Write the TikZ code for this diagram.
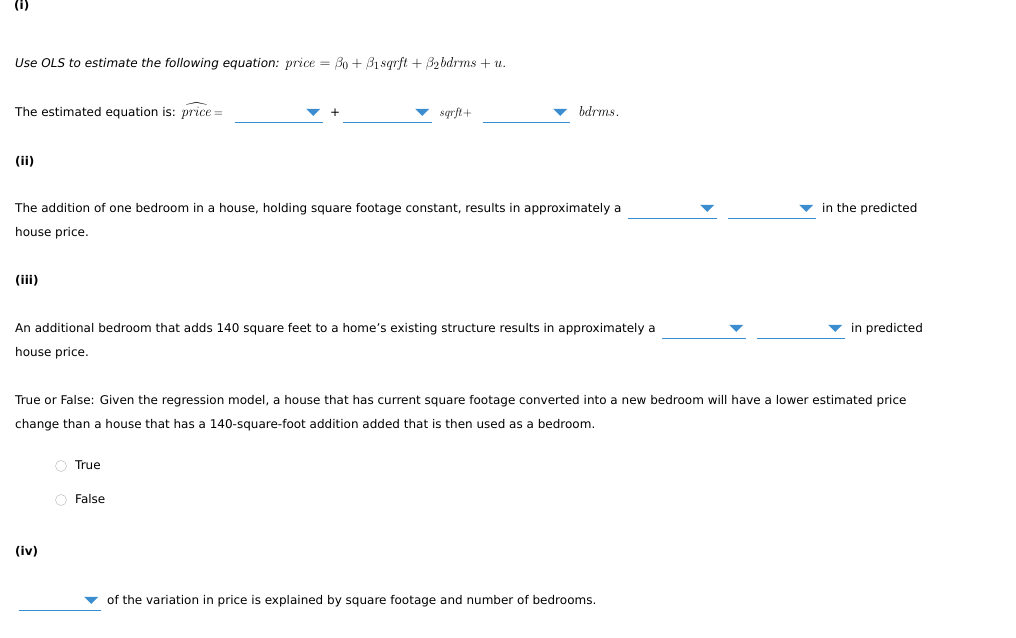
\documentclass[tikz,border=0pt]{standalone}
\usepackage{amsmath}
\usepackage[no-math]{fontspec}
\setmainfont{DejaVu Sans}
\newcommand{\mth}[2]{{\fontsize{#1}{16}\selectfont$#2$}}
\tikzset{
 t/.style={anchor=west,inner sep=0pt,font=\fontsize{12}{14}\selectfont,text height=9pt,text depth=2.5pt},
 h/.style={t,font=\fontsize{12}{14}\selectfont\bfseries},
 dd/.style={anchor=south west,inner sep=0pt,minimum height=16pt,minimum width=#1,
   path picture={\draw[ddblue,line width=1.2pt] (path picture bounding box.south west)--(path picture bounding box.south east);
   \fill[ddblue] ([xshift=-17pt,yshift=-2pt]path picture bounding box.north east)--++(14pt,0)--++(-7pt,-7pt)--cycle;}},
 radio/.style={circle,draw=gray!60,minimum size=11pt,inner sep=0pt}
}
\definecolor{ddblue}{HTML}{3C8DD0}
\begin{document}
\begin{tikzpicture}[x=1pt,y=-1pt]
\useasboundingbox (0,0) rectangle (1016,637);
\node[h] (h1) at (14,6) {(i)};
\node[t] (l1) at (15,64) {\textit{Use OLS to estimate the following equation:} \mth{15}{\mathit{price}=\beta_0+\beta_1\mathit{sqrft}+\beta_2\mathit{bdrms}+u.}};
\node[t] (l2) at (15,113) {The estimated equation is: \mth{14.5}{\widehat{\mathit{price}}}\,\mth{12}{=}};
\node[dd=88pt] (d1) at (235,123) {};
\node[t] (p1) at (330,113) {+};
\node[dd=89pt] (d2) at (343,123) {};
\node[t] (s1) at (439,113) {\mth{13}{\mathit{sqrft}+}};
\node[dd=87pt] (d3) at (483,123) {};
\node[t] (b1) at (578,113) {\mth{13.5}{\mathit{bdrms}.}};
\node[h] (h2) at (15,162) {(ii)};
\node[t] (l3) at (15,209) {The addition of one bedroom in a house, holding square footage constant, results in approximately a};
\node[dd=89pt] (d4) at (628,219) {};
\node[dd=88pt] (d5) at (728,219) {};
\node[t] (l4) at (822,209) {in the predicted};
\node[t] (l5) at (15,233) {house price.};
\node[h] (h3) at (15,281) {(iii)};
\node[t] (l6) at (15,329) {An additional bedroom that adds 140 square feet to a home's existing structure results in approximately a};
\node[dd=84pt] (d6) at (662,339) {};
\node[dd=88pt] (d7) at (757,339) {};
\node[t] (l7) at (851,329) {in predicted};
\node[t] (l8) at (15,353) {house price.};
\node[t] (l9) at (15,401) {True or False: Given the regression model, a house that has current square footage converted into a new bedroom will have a lower estimated price};
\node[t] (l10) at (15,425) {change than a house that has a 140-square-foot addition added that is then used as a bedroom.};
\node[radio] (r1) at (61,466) {};
\node[t] (tr) at (75,466) {True};
\node[radio] (r2) at (61,500) {};
\node[t] (fa) at (75,500) {False};
\node[h] (h4) at (15,552) {(iv)};
\node[dd=82pt] (d8) at (19,611) {};
\node[t] (l11) at (107,601) {of the variation in price is explained by square footage and number of bedrooms.};
\end{tikzpicture}
\end{document}
